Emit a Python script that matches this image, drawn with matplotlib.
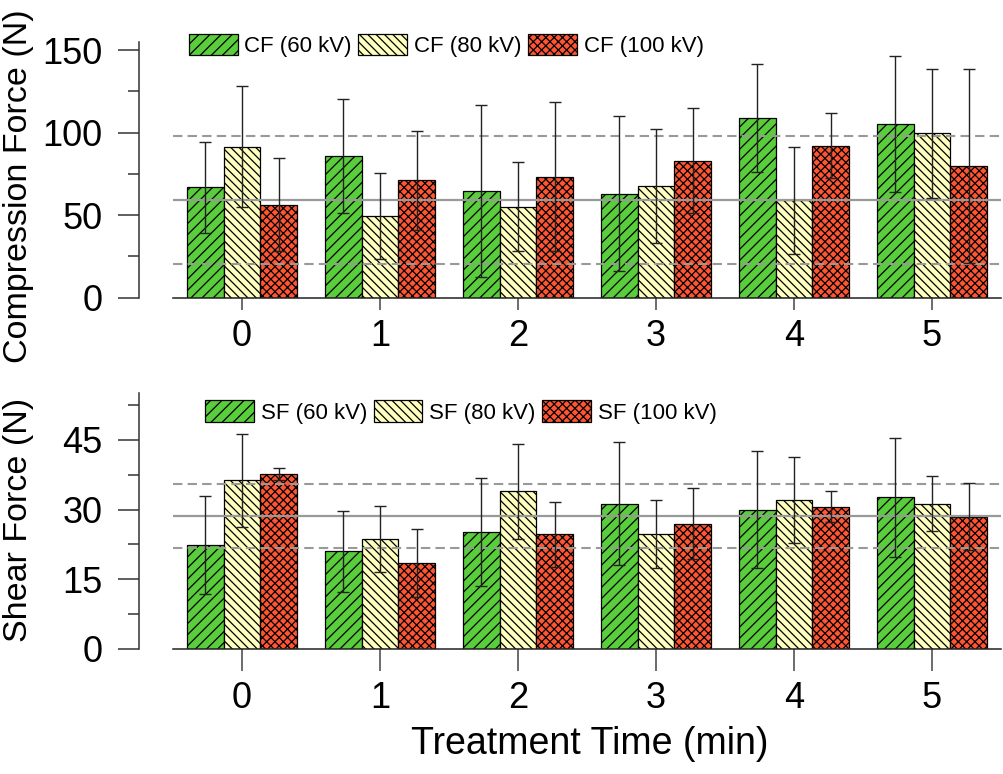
import matplotlib
matplotlib.use("Agg")
import matplotlib.pyplot as plt
import numpy as np

plt.rcParams['font.family'] = ['Liberation Sans', 'DejaVu Sans']
plt.rcParams['hatch.linewidth'] = 0.9

times = [0, 1, 2, 3, 4, 5]

# compression force (N), mean and error
cf60 = [67.0, 86.0, 64.5, 63.0, 109.0, 105.0]
cf60_err = [27.6, 34.5, 52.0, 47.0, 32.7, 41.2]
cf80 = [91.5, 49.7, 55.1, 67.7, 59.0, 99.6]
cf80_err = [36.5, 26.0, 27.0, 34.3, 32.5, 39.0]
cf100 = [56.3, 71.1, 73.3, 83.0, 92.1, 79.8]
cf100_err = [28.2, 30.0, 45.3, 31.6, 19.5, 58.7]
cf_ref = [59.0, 20.4, 97.7]   # mean, lower, upper

# shear force (N)
sf60 = [22.4, 21.0, 25.2, 31.3, 30.0, 32.6]
sf60_err = [10.6, 8.8, 11.6, 13.2, 12.5, 12.7]
sf80 = [36.3, 23.6, 33.9, 24.8, 32.1, 31.3]
sf80_err = [10.0, 7.1, 10.3, 7.3, 9.3, 5.9]
sf100 = [37.7, 18.5, 24.7, 27.0, 30.6, 28.5]
sf100_err = [1.3, 7.4, 7.0, 7.7, 3.3, 7.2]
sf_ref = [28.55, 21.7, 35.4]

colors = ['#5acd3c', '#ffffc0', '#ff5533']
hatches = ['///', '\\\\\\\\', 'xxxx']

W, H = 1004, 774
fig = plt.figure(figsize=(W / 100, H / 100), dpi=100)


def panel(rect, series, errs, labels, ref, ylim, major, minor, xtick_len, legend_xy):
    ax = fig.add_axes(rect)
    x = np.arange(len(times))
    w = 0.8 / 3
    handles = []
    for k in range(3):
        b = ax.bar(x + (k - 1) * w, series[k], w, color=colors[k], edgecolor='black',
                   hatch=hatches[k], linewidth=0.9, zorder=2, label=labels[k])
        ax.errorbar(x + (k - 1) * w, series[k], yerr=errs[k], fmt='none', ecolor='#222222',
                    elinewidth=1.0, capsize=4.3, capthick=1.0, zorder=4)
        handles.append(b)
    ax.axhline(ref[0], color='#999999', lw=1.6, zorder=3)
    ax.axhline(ref[1], color='#999999', lw=1.5, ls=(0, (4.5, 2.5)), zorder=3)
    ax.axhline(ref[2], color='#999999', lw=1.5, ls=(0, (4.5, 2.5)), zorder=3)

    ax.set_xlim(-0.5, 5.5)
    ax.set_ylim(*ylim)
    ax.set_xticks(x)
    ax.set_xticklabels([str(t) for t in times])
    ax.set_yticks(major)
    ax.set_yticks(minor, minor=True)
    for s in ['top', 'right']:
        ax.spines[s].set_visible(False)
    ax.spines['left'].set_position(('outward', 24.5))
    ax.spines['left'].set_color('#333333')
    ax.spines['bottom'].set_color('#222222')
    ax.spines['left'].set_linewidth(1.1)
    ax.spines['bottom'].set_linewidth(1.1)
    ax.tick_params(axis='y', which='major', length=15, width=1.1, color='#333333',
                   labelsize=26, pad=11)
    ax.tick_params(axis='y', which='minor', length=8, width=1.1, color='#333333')
    ax.tick_params(axis='x', length=xtick_len, width=1.1, color='#444444',
                   labelsize=26, pad=7)
    ax.legend(handles=handles, loc='upper left', bbox_to_anchor=legend_xy, frameon=False,
              ncol=3, fontsize=16, handlelength=2.2, handleheight=1.1,
              handletextpad=0.3, columnspacing=0.3, borderpad=0, borderaxespad=0)
    return ax


# top panel: y=0 at 297.7 px, 1 N = 1.651 px
ax1 = panel([173 / W, 1 - 297.7 / H, 828 / W, 255.9 / H],
            [cf60, cf80, cf100], [cf60_err, cf80_err, cf100_err],
            ['CF (60 kV)', 'CF (80 kV)', 'CF (100 kV)'], cf_ref,
            (0, 155), [0, 50, 100, 150], [25, 75, 125], 8.5, (0.019, 1.03))

# bottom panel: y=0 at 649 px, 1 N = 4.647 px
ax2 = panel([173 / W, 1 - 649 / H, 828 / W, 255.6 / H],
            [sf60, sf80, sf100], [sf60_err, sf80_err, sf100_err],
            ['SF (60 kV)', 'SF (80 kV)', 'SF (100 kV)'], sf_ref,
            (0, 55), [0, 15, 30, 45], [7.5, 22.5, 37.5, 52.5], 16, (0.0386, 0.973))

fig.text(19 / W, 1 - 186 / H, 'Compression Force (N)', rotation=90, ha='center',
         va='center', fontsize=24.5)
fig.text(19 / W, 1 - 520 / H, 'Shear Force (N)', rotation=90, ha='center',
         va='center', fontsize=24.5)
fig.text(590 / W, 1 - 744 / H, 'Treatment Time (min)', ha='center', va='center',
         fontsize=27)

fig.savefig('out.png', dpi=100)
